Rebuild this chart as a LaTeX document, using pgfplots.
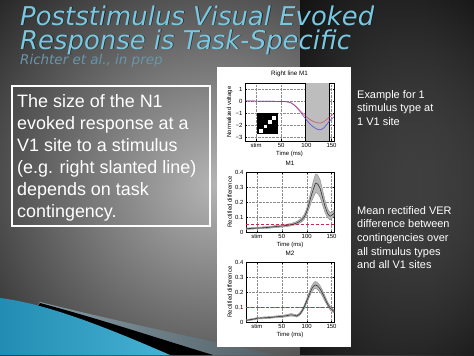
\documentclass[border=0pt]{standalone}
\usepackage{fontspec}
\setmainfont{Liberation Sans}
\newfontfamily\titlefont{DejaVu Sans}
\usepackage{pgfplots}
\usepackage{pgfplotstable}
\pgfplotsset{compat=1.18}
\usetikzlibrary{fadings}

\definecolor{titleblue}{RGB}{120,200,226}
\definecolor{subblue}{RGB}{104,150,170}
\definecolor{swteal}{RGB}{70,178,212}
\definecolor{swtealdark}{RGB}{35,140,178}
\definecolor{swgray}{RGB}{140,162,172}
\definecolor{bandgray}{RGB}{185,185,185}
\definecolor{redline}{RGB}{205,40,80}
\definecolor{blueline}{RGB}{80,60,210}

% mean rectified difference, M1
\pgfplotstableread{
x m
-22 0.022
-10 0.024
0 0.026
20 0.030
40 0.037
50 0.040
60 0.044
70 0.050
80 0.060
90 0.080
95 0.100
100 0.135
105 0.190
110 0.250
115 0.300
118 0.325
122 0.320
127 0.290
132 0.230
137 0.170
142 0.125
147 0.105
150 0.110
155 0.125
}\mone
% confidence band M1 (upper forward, lower backward)
\pgfplotstableread{
x y
-22 0.027
-10 0.029
0 0.031
20 0.036
40 0.044
50 0.047
60 0.052
70 0.058
80 0.070
90 0.093
95 0.116
100 0.157
105 0.222
110 0.295
115 0.358
118 0.387
122 0.382
127 0.348
132 0.280
137 0.210
142 0.155
147 0.129
150 0.132
155 0.147
155 0.103
150 0.088
147 0.081
142 0.095
137 0.130
132 0.180
127 0.232
122 0.258
118 0.263
115 0.242
110 0.205
105 0.158
100 0.113
95 0.084
90 0.067
80 0.050
70 0.042
60 0.036
50 0.033
40 0.030
20 0.024
0 0.021
-10 0.019
-22 0.017
}\bandone

% mean rectified difference, M2
\pgfplotstableread{
x m
-22 0.010
-15 0.015
-5 0.020
0 0.025
10 0.027
25 0.030
40 0.035
50 0.038
60 0.042
68 0.048
75 0.045
80 0.040
85 0.050
90 0.070
95 0.100
100 0.140
105 0.180
110 0.220
115 0.243
118 0.247
122 0.240
127 0.220
132 0.190
137 0.155
142 0.120
147 0.095
150 0.085
155 0.070
}\mtwo
\pgfplotstableread{
x y
-22 0.014
-15 0.020
-5 0.025
0 0.030
10 0.033
25 0.036
40 0.041
50 0.045
60 0.049
68 0.056
75 0.052
80 0.047
85 0.058
90 0.080
95 0.112
100 0.155
105 0.198
110 0.240
115 0.266
118 0.270
122 0.263
127 0.242
132 0.210
137 0.173
142 0.135
147 0.108
150 0.097
155 0.080
155 0.060
150 0.073
147 0.082
142 0.105
137 0.137
132 0.170
127 0.198
122 0.217
118 0.224
115 0.220
110 0.200
105 0.162
100 0.125
95 0.088
90 0.060
85 0.042
80 0.033
75 0.038
68 0.040
60 0.035
50 0.031
40 0.029
25 0.024
10 0.021
0 0.020
-5 0.015
-15 0.010
-22 0.006
}\bandtwo

% right line M1: two contingencies
\pgfplotstableread{
x red blue
-22 0.02 0.02
0 0.00 0.00
40 -0.02 -0.02
60 -0.05 -0.05
70 -0.15 -0.16
80 -0.45 -0.50
90 -0.90 -1.00
100 -1.30 -1.55
110 -1.60 -2.00
120 -1.78 -2.30
127 -1.82 -2.38
135 -1.70 -2.20
145 -1.35 -1.70
155 -1.05 -1.30
}\rltab

\pgfplotsset{panel/.style={
  scale only axis, width=88bp, height=60bp,
  xmin=-22, xmax=155,
  xtick={0,50,100,150}, xticklabels={stim,50,100,150},
  tick align=inside, xtick pos=both, ytick pos=both,
  grid=major, major grid style={densely dotted, black!45, line width=0.3pt},
  axis line style={line width=0.4pt},
  tick style={line width=0.3pt, black},
  major tick length=1.5bp,
  ticklabel style={font=\fontsize{6}{6}\selectfont},
  label style={font=\fontsize{6}{6}\selectfont},
  title style={font=\fontsize{6.3}{7}\selectfont, yshift=-3.5pt},
  xlabel={Time (ms)},
  xlabel style={yshift=4pt},
  ylabel style={yshift=-3.5pt},
  xticklabel style={yshift=1pt},
  yticklabel style={xshift=1pt},
  /pgf/number format/assume math mode=true,
}}

\begin{document}
\begin{tikzpicture}[x=1bp,y=1bp]
\useasboundingbox (0,0) rectangle (474,355);
% background
\begin{scope}
\clip (0,0) rectangle (474,355);
\fill[black!90] (0,0) rectangle (474,355);
\shade[inner color={rgb,255:red,180;green,180;blue,180}, outer color={rgb,255:red,22;green,22;blue,22}] (215,170) ellipse (330 and 310);
\fill[black, path fading=east, fill opacity=0.75] (300,0) rectangle (474,355);
% swoosh
\shade[left color=swgray, right color=swgray!60!black] (40,53) .. controls (100,38) and (190,18) .. (277,0) -- (0,0) -- cycle;
\fill[black] (40,52) .. controls (100,36) and (160,16) .. (213,0) -- (0,0) -- cycle;
\shade[left color=swtealdark, right color=swteal] (0,57) .. controls (40,52) and (90,35) .. (170,0) -- (0,0) -- cycle;
\end{scope}

% titles
\node[anchor=base west, inner sep=0, text=black, opacity=0.6, font=\titlefont\itshape\fontsize{26}{26}\selectfont] at (20.8,329.2) {Poststimulus Visual Evoked};
\node[anchor=base west, inner sep=0, text=titleblue, font=\titlefont\itshape\fontsize{26}{26}\selectfont] at (20,330) {Poststimulus Visual Evoked};
\node[anchor=base west, inner sep=0, text=black, opacity=0.6, font=\titlefont\itshape\fontsize{26}{26}\selectfont] at (20.8,305.2) {Response is Task-Specific};
\node[anchor=base west, inner sep=0, text=titleblue, font=\titlefont\itshape\fontsize{26}{26}\selectfont] at (20,306) {Response is Task-Specific};
\node[anchor=base west, inner sep=0, text=subblue, font=\titlefont\itshape\fontsize{13.5}{14}\selectfont] at (20,290.5) {Richter et al., in prep};

% left text box
\draw[white, line width=1.2bp] (12,129) rectangle (210,269);
\begin{scope}[every node/.style={anchor=base west, inner sep=0, text=white, font=\fontsize{18}{22}\selectfont}]
\node at (17,248) {The size of the N1};
\node at (17,226) {evoked response at a};
\node at (17,204) {V1 site to a stimulus};
\node at (17,182) {(e.g. right slanted line)};
\node at (17,160) {depends on task};
\node at (17,138) {contingency.};
\end{scope}

% right text
\begin{scope}[every node/.style={anchor=base west, inner sep=0, text=white, font=\fontsize{11}{13}\selectfont}]
\node at (357,257) {Example for 1};
\node at (357,243.5) {stimulus type at};
\node at (357,230) {1 V1 site};
\node at (357,141) {Mean rectified VER};
\node at (357,127.3) {difference between};
\node at (357,113.6) {contingencies over};
\node at (357,99.9) {all stimulus types};
\node at (357,86.2) {and all V1 sites};
\end{scope}

% white panel
\fill[white] (217,8) rectangle (351,288);

% plot 1
\begin{axis}[panel, at={(245bp,214bp)}, anchor=south west, width=89bp, height=58bp,
  ymin=-3.3, ymax=1.5, ytick={-3,-2,-1,0,1}, yticklabels={−3,−2,−1,0,1},
  title={Right line M1}, ylabel={Normalized voltage}]
\addplot[fill=black!26, draw=none] coordinates {(98,-3.3) (145,-3.3) (145,1.5) (98,1.5)} -- cycle;
\addplot[black, line width=0.5pt] coordinates {(98,-3.3) (98,1.5)};
\addplot[black, line width=0.5pt] coordinates {(145,-3.3) (145,1.5)};
\addplot[blueline, line width=0.7pt, smooth, opacity=0.8] table[x=x, y=blue] {\rltab};
\addplot[redline, line width=0.7pt, smooth, opacity=0.65] table[x=x, y=red] {\rltab};
\addplot[fill=black, draw=black] coordinates {(2,-0.98) (42,-0.98) (42,-2.64) (2,-2.64)} -- cycle;
\addplot[only marks, mark=square*, mark size=1.3bp, white] coordinates {(9,-2.45) (18,-2.09) (27,-1.72) (35,-1.37)};
\end{axis}

% plot 2
\begin{axis}[panel, at={(246bp,123bp)}, anchor=south west,
  ymin=0, ymax=0.4, ytick={0,0.1,0.2,0.3,0.4}, yticklabels={0,0.1,0.2,0.3,0.4},
  title={M1}, ylabel={Rectified difference}]
\addplot[fill=bandgray, draw=black!45, line width=0.4pt] table[x=x, y=y] {\bandone} -- cycle;
\addplot[redline, densely dashed, line width=0.5pt] coordinates {(-22,0.05) (155,0.05)};
\addplot[black!80, line width=0.6pt, smooth] table[x=x, y=m] {\mone};
\end{axis}

% plot 3
\begin{axis}[panel, at={(246bp,33bp)}, anchor=south west,
  ymin=0, ymax=0.4, ytick={0,0.1,0.2,0.3,0.4}, yticklabels={0,0.1,0.2,0.3,0.4},
  title={M2}, ylabel={Rectified difference}]
\addplot[fill=bandgray, draw=black!45, line width=0.4pt] table[x=x, y=y] {\bandtwo} -- cycle;
\addplot[redline, densely dashed, line width=0.5pt] coordinates {(-22,0.1) (155,0.1)};
\addplot[black!80, line width=0.6pt, smooth] table[x=x, y=m] {\mtwo};
\end{axis}
\end{tikzpicture}
\end{document}
